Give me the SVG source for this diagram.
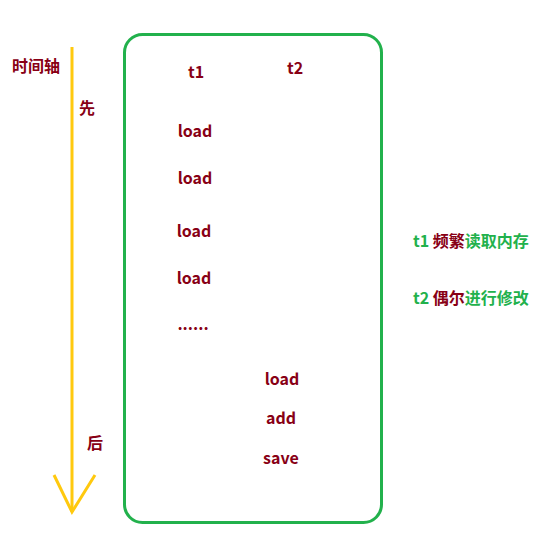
<svg xmlns="http://www.w3.org/2000/svg" width="560" height="540" viewBox="0 0 560 540">
<style>
.t{font-family:"Noto Sans CJK SC","Noto Sans",sans-serif;font-weight:bold;font-size:16px;fill:#880015;text-anchor:middle;dominant-baseline:central}
.l{text-anchor:start}
.g{fill:#22B14C}
.ax{stroke:#FFC90E;stroke-width:3;fill:none}
</style>
<rect width="560" height="540" fill="#fff"/>
<g id="axis">
<line class="ax" x1="72" y1="47" x2="72" y2="512"/>
<polyline class="ax" points="54,475 72,512 95,475"/>
<text class="t l" x="12" y="65">时间轴</text>
<text class="t l" x="79" y="107">先</text>
<text class="t l" x="87" y="442">后</text>
</g>
<g id="box">
<rect x="124.5" y="34.5" width="257" height="488" rx="18" fill="none" stroke="#22B14C" stroke-width="3"/>
</g>
<g id="t1">
<text class="t" x="196" y="71">t1</text>
<text class="t" x="195" y="130">load</text>
<text class="t" x="195" y="177">load</text>
<text class="t" x="194" y="230">load</text>
<text class="t" x="194" y="277">load</text>
<text class="t" x="193" y="323">......</text>
</g>
<g id="t2">
<text class="t" x="295" y="67">t2</text>
<text class="t" x="282" y="378">load</text>
<text class="t" x="281" y="417">add</text>
<text class="t" x="281" y="457">save</text>
</g>
<g id="legend">
<text class="t l" x="413" y="240"><tspan class="g">t1 </tspan>频繁<tspan class="g">读取内存</tspan></text>
<text class="t l" x="413" y="297"><tspan class="g">t2 </tspan>偶尔<tspan class="g">进行修改</tspan></text>
</g>
<g id="connectors"/>
</svg>
